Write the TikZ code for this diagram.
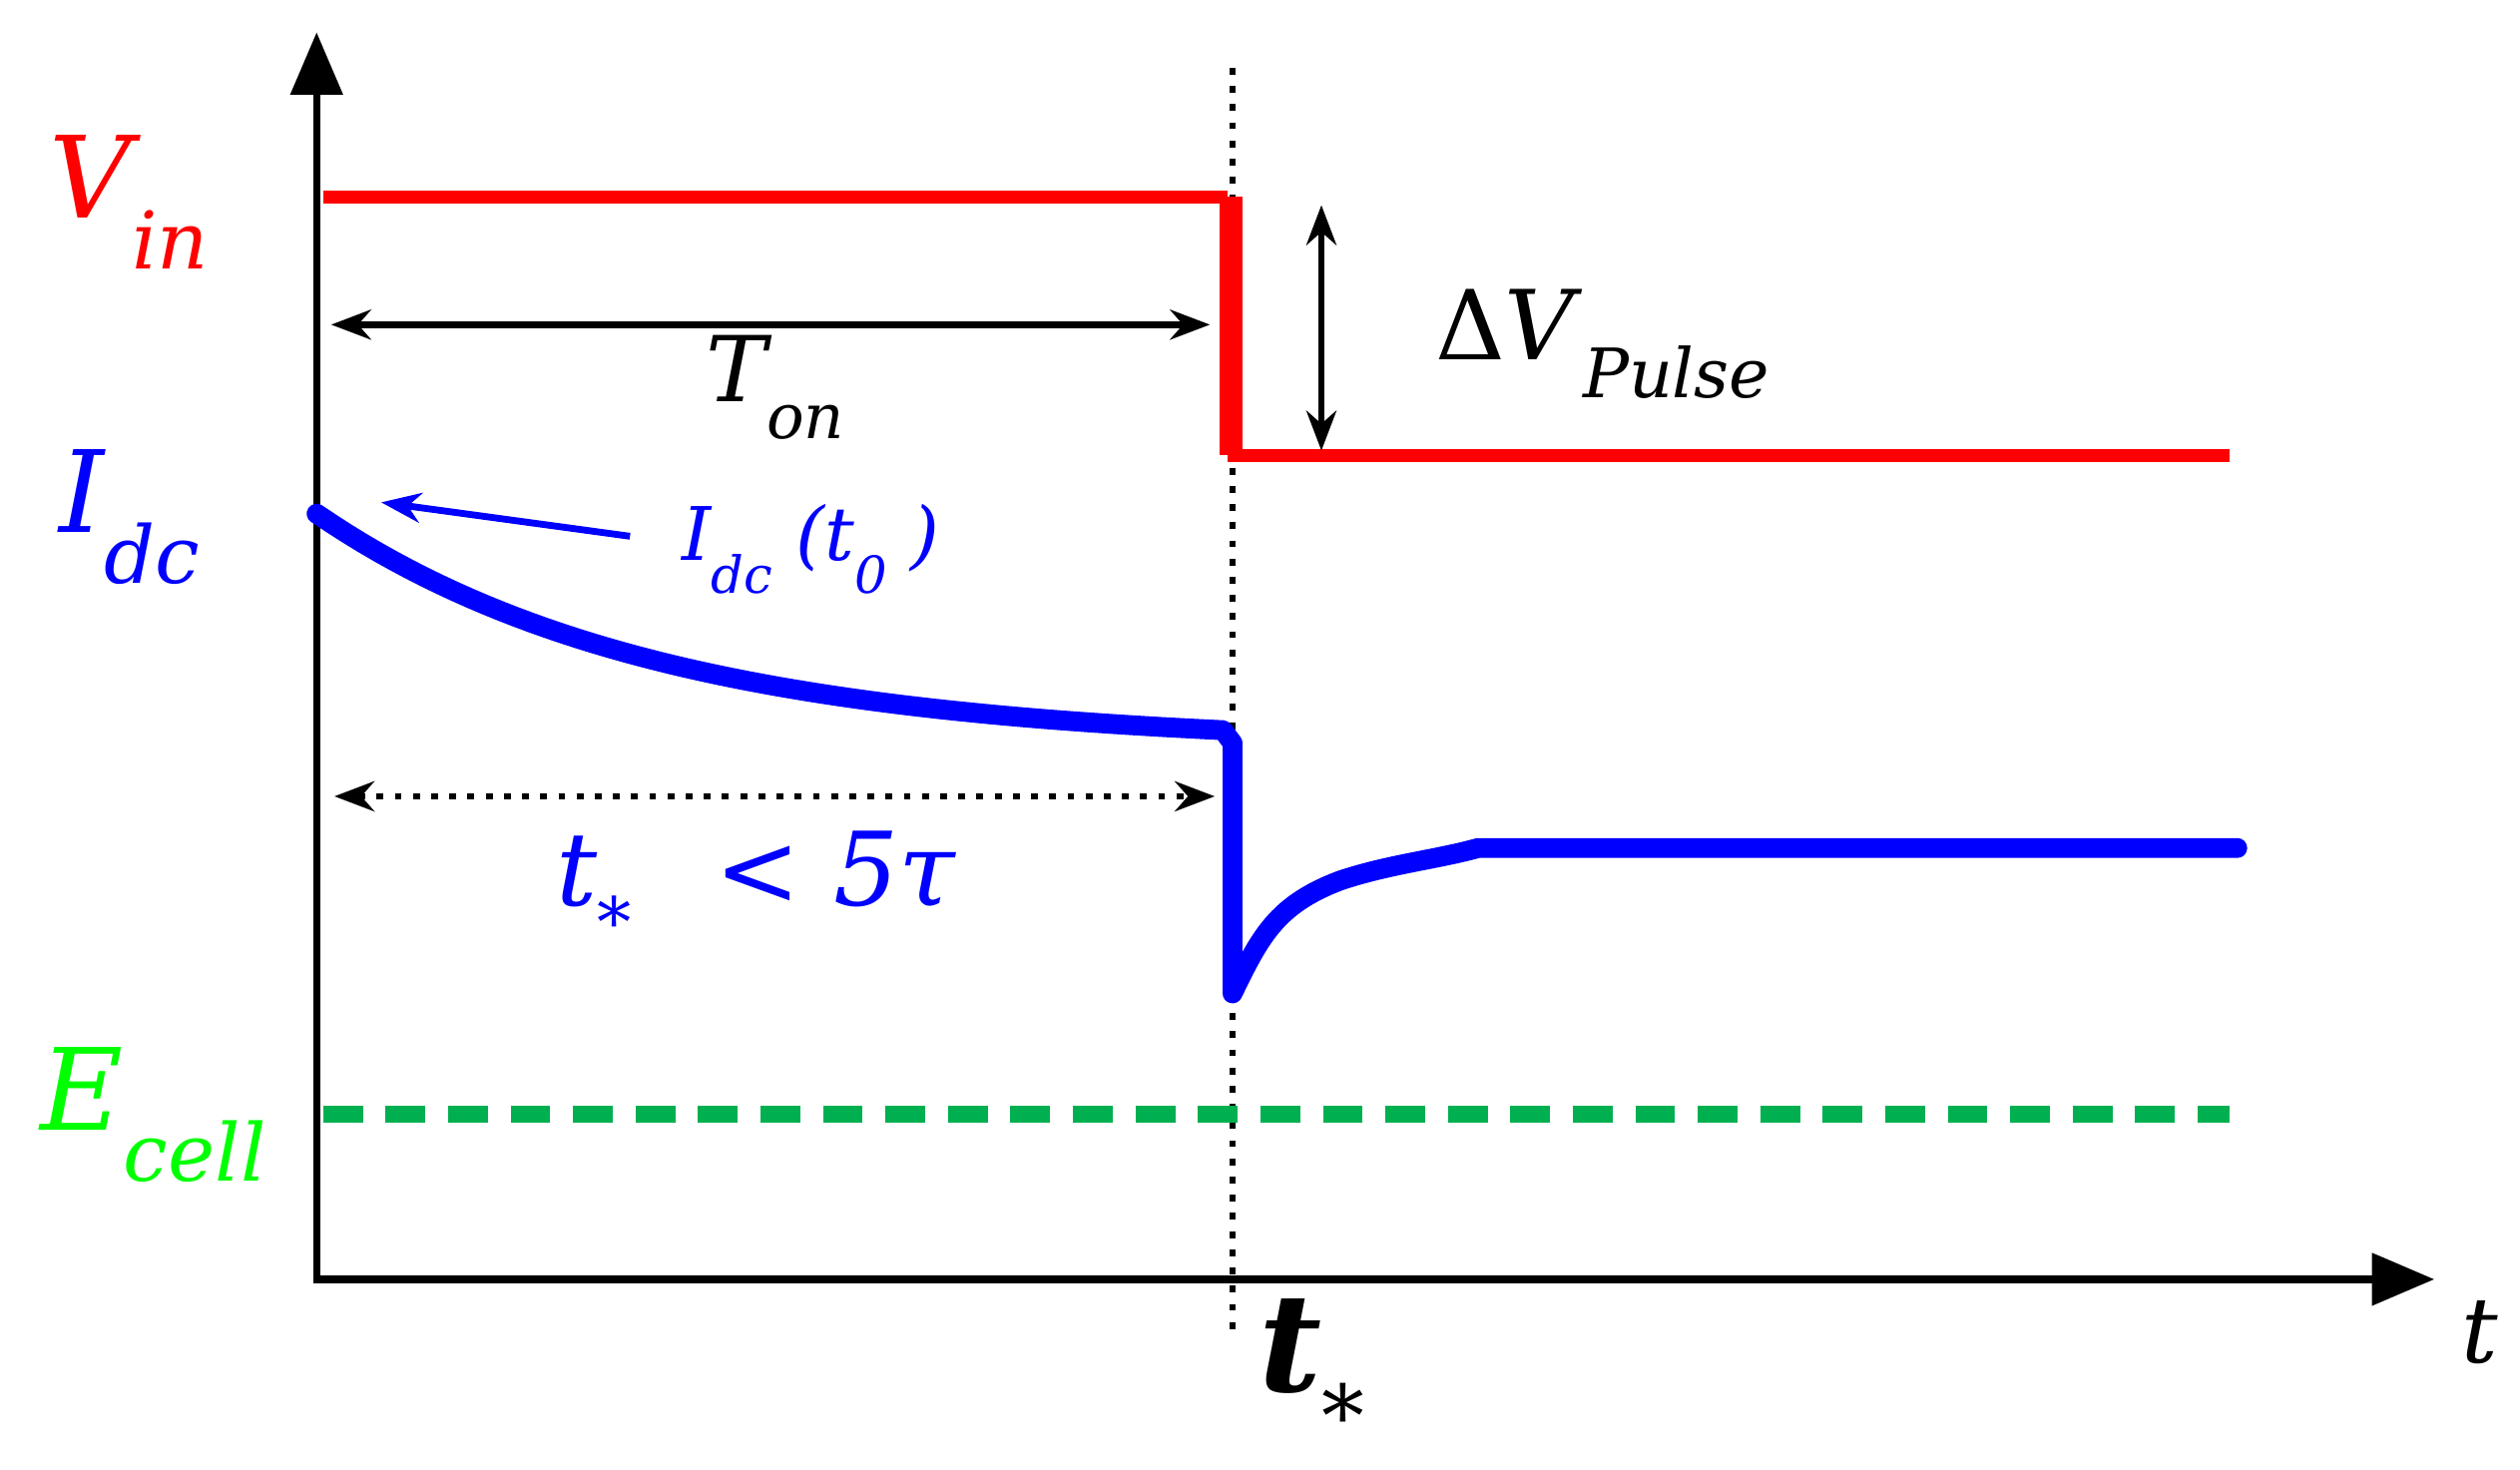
\documentclass[tikz,border=0pt]{standalone}
\usepackage{fontspec}
\setmainfont{DejaVu Serif}
\newfontfamily\tms{DejaVu Serif}
\usetikzlibrary{arrows.meta}
\begin{document}
\begin{tikzpicture}[x=0.01cm,y=-0.01cm,
  lbl/.style={font=\tms\itshape\fontsize{20}{20}\selectfont},
  dimarrow/.style={black,line width=1.2pt,{Stealth[length=7pt]}-{Stealth[length=7pt]}}]
\useasboundingbox (0,0) rectangle (1560,910);
% axes
\coordinate (ytop) at (196,20);
\coordinate (xend) at (1507,792);
\draw[line width=1.3pt,-{Triangle[length=11pt,width=9pt]}] (196,794) -- (ytop);
\draw[line width=1.3pt,-{Triangle[length=11pt,width=9pt]}] (194,792) -- (xend);
% dotted vertical
\coordinate (d1) at (763,42); \coordinate (d2) at (763,825);
\draw[line width=1.2pt,dotted] (d1) -- (d2);
% red
\draw[red,line width=2.4pt] (200,122) -- (760,122);
\draw[red,line width=4pt] (762,122) -- (762,282);
\draw[red,line width=2.4pt] (760,282) -- (1380,282);
% blue
\draw[blue,line width=3.5pt,line cap=round,line join=round]
  plot[domain=196:757,samples=60] (\x,{462-144*exp(-(\x-196)/210)})
  -- (763,460) -- (763,615)
  .. controls (780,580) and (790,560) .. (830,545)
  .. controls (860,535) and (890,532) .. (915,525) -- (1385,525);
% green dashed
\draw[color={rgb,255:red,0;green,176;blue,80},line width=3pt,dash pattern=on 7pt off 4pt] (200,690) -- (1380,690);
% dimension arrows
\coordinate (ta) at (205,201); \coordinate (tb) at (749,201);
\draw[dimarrow] (ta) -- (tb);
\coordinate (va) at (818,127); \coordinate (vb) at (818,279);
\draw[dimarrow] (va) -- (vb);
\coordinate (sa) at (207,493); \coordinate (sb) at (752,493);
\draw[dimarrow,dotted] (sa) -- (sb);
\coordinate (ia) at (390,332); \coordinate (ib) at (236,311);
\draw[blue,line width=1.2pt,-{Stealth[length=7pt]}] (ia) -- (ib);
% labels
\node[red,lbl] (vin) at (80,125) {V\raisebox{-0.45em}{\fontsize{14}{14}\selectfont in}};
\node[blue,lbl] (idc) at (80,320) {I\raisebox{-0.45em}{\fontsize{14}{14}\selectfont dc}};
\node[color={rgb,255:red,0;green,255;blue,0},lbl] (ecell) at (95,690) {E\raisebox{-0.45em}{\fontsize{14}{14}\selectfont cell}};
\node[font=\tms\itshape\fontsize{16}{16}\selectfont] (ton) at (480,240) {T\raisebox{-0.4em}{\fontsize{11}{11}\selectfont on}};
\node[font=\tms\fontsize{17}{17}\selectfont] (dv) at (992,213) {Δ\textit{V}\raisebox{-0.4em}{\itshape\fontsize{12}{12}\selectfont Pulse}};
\node[blue,font=\tms\itshape\fontsize{13}{13}\selectfont,anchor=west] (it0) at (410,340) {I\raisebox{-0.45em}{\fontsize{9}{9}\selectfont dc} (t\raisebox{-0.45em}{\fontsize{9}{9}\selectfont 0} )};
\node[blue,font=\tms\itshape\fontsize{18}{18}\selectfont] (tst) at (468,550) {t\raisebox{-0.4em}{\upshape\fontsize{12}{12}\selectfont *}\,\,\, \upshape< \itshape 5τ};
\node[font=\tms\itshape\fontsize{16}{16}\selectfont] (t) at (1535,825) {t};
\node[font=\tms\itshape\bfseries\fontsize{24}{24}\selectfont] (tstar) at (812,850) {t\raisebox{-0.4em}{\upshape\mdseries\fontsize{15}{15}\selectfont *}};
\end{tikzpicture}
\end{document}
